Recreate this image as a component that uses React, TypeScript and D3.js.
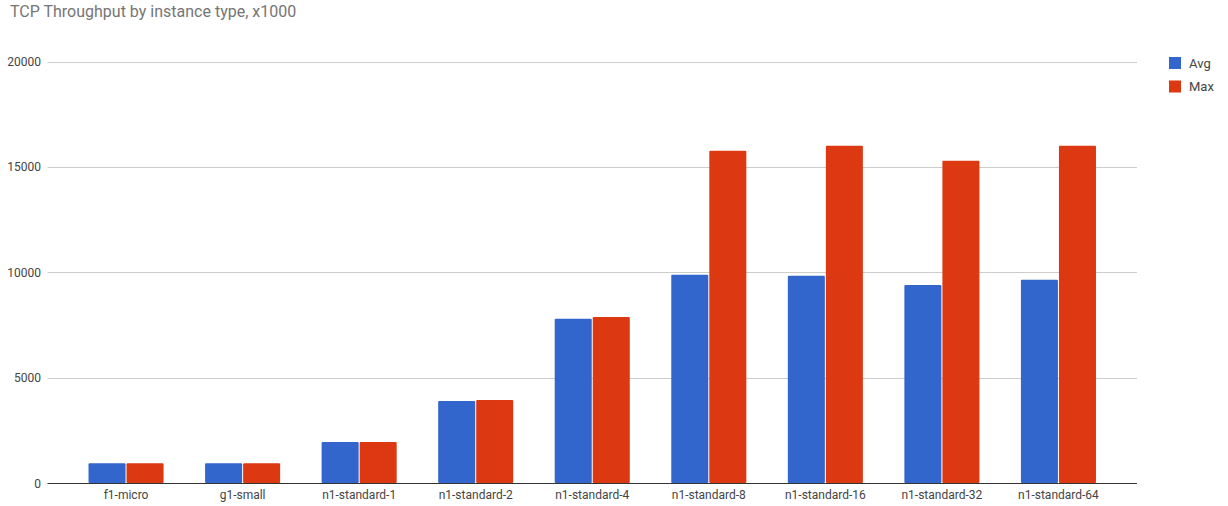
import { useEffect, useRef } from 'react';
import * as d3 from 'd3';

// ─── Data ───────────────────────────────────────────────────

const CATEGORIES = [
  'f1-micro',
  'g1-small',
  'n1-standard-1',
  'n1-standard-2',
  'n1-standard-4',
  'n1-standard-8',
  'n1-standard-16',
  'n1-standard-32',
  'n1-standard-64',
];

const AVG = [935, 935, 1945, 3890, 7790, 9880, 9830, 9400, 9640];
const MAX = [935, 935, 1945, 3940, 7880, 15760, 16000, 15290, 16000];

const SERIES_NAMES = ['Avg', 'Max'];
const Y_TICKS = [0, 5000, 10000, 15000, 20000];

const TITLE = 'TCP Throughput by instance type, x1000';

// ─── Constants ──────────────────────────────────────────────

const WIDTH = 1228;
const HEIGHT = 506;
const COLORS = ['#3366cc', '#dc3912'];
const PLOT = { left: 47.5, right: 1137, top: 61.5, bottom: 483 };
const FONT = 'Roboto, Arial, sans-serif';

export default function App() {
  const svgRef = useRef<SVGSVGElement>(null);

  useEffect(() => {
    if (!svgRef.current) return;
    const svg = d3.select(svgRef.current);
    svg.selectAll('*').remove();

    const x = d3.scaleBand<string>()
      .domain(CATEGORIES)
      .range([PLOT.left, PLOT.right])
      .paddingInner(0.356)
      .paddingOuter(0.352);

    const xs = d3.scaleBand<string>()
      .domain(SERIES_NAMES)
      .range([0, x.bandwidth()]);

    const y = d3.scaleLinear()
      .domain([0, 20000])
      .range([PLOT.bottom, PLOT.top]);

    // Title
    svg.append('text')
      .attr('x', 10).attr('y', 17)
      .attr('font-family', FONT).attr('font-size', 16)
      .attr('fill', '#757575')
      .text(TITLE);

    // Grid lines
    svg.append('g')
      .selectAll('line')
      .data(Y_TICKS.filter((d) => d !== 0))
      .join('line')
      .attr('x1', PLOT.left).attr('x2', PLOT.right)
      .attr('y1', (d) => Math.round(y(d)) + 0.5).attr('y2', (d) => Math.round(y(d)) + 0.5)
      .attr('stroke', '#cccccc');

    // Y tick labels
    svg.append('g')
      .selectAll('text')
      .data(Y_TICKS)
      .join('text')
      .attr('x', 41).attr('y', (d) => y(d) + 4.5)
      .attr('text-anchor', 'end')
      .attr('font-family', FONT).attr('font-size', 12)
      .attr('fill', '#444444')
      .text((d) => String(d));

    // Bars
    const groups = svg.append('g')
      .selectAll('g')
      .data(CATEGORIES)
      .join('g')
      .attr('transform', (d) => `translate(${x(d)},0)`);

    groups.selectAll('rect')
      .data((_, i) => [AVG[i], MAX[i]].map((v, j) => ({ key: SERIES_NAMES[j], v, j })))
      .join('rect')
      .attr('x', (d) => (xs(d.key) ?? 0) + (d.j === 1 ? 0.5 : 0))
      .attr('y', (d) => y(d.v))
      .attr('width', xs.bandwidth() - 0.5)
      .attr('height', (d) => y(0) - y(d.v))
      .attr('rx', 1)
      .attr('fill', (d) => COLORS[d.j]);

    // Baseline
    svg.append('line')
      .attr('x1', PLOT.left).attr('x2', PLOT.right)
      .attr('y1', PLOT.bottom + 0.5).attr('y2', PLOT.bottom + 0.5)
      .attr('stroke', '#333333');

    // X labels
    svg.append('g')
      .selectAll('text')
      .data(CATEGORIES)
      .join('text')
      .attr('x', (d) => (x(d) ?? 0) + x.bandwidth() / 2)
      .attr('y', 499)
      .attr('text-anchor', 'middle')
      .attr('font-family', FONT).attr('font-size', 12)
      .attr('fill', '#444444')
      .text((d) => d);

    // Legend
    const legend = svg.append('g')
      .selectAll('g')
      .data(SERIES_NAMES)
      .join('g')
      .attr('transform', (_, i) => `translate(1169,${57 + i * 23.5})`);
    legend.append('rect')
      .attr('width', 12).attr('height', 12)
      .attr('fill', (_, i) => COLORS[i]);
    legend.append('text')
      .attr('x', 20).attr('y', 10.5)
      .attr('font-family', FONT).attr('font-size', 13)
      .attr('fill', '#444444')
      .text((d) => d);
  }, []);

  return (
    <div style={{ position: 'fixed', left: 0, top: 0, background: '#fff' }}>
      <svg ref={svgRef} width={WIDTH} height={HEIGHT} style={{ display: 'block' }} />
    </div>
  );
}
